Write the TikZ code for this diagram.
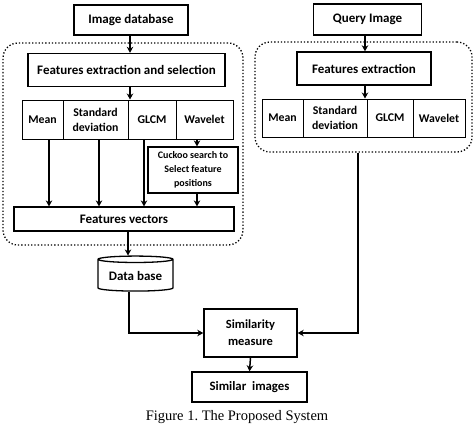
\documentclass[tikz,border=0pt]{standalone}
\usepackage{fontspec}
\setmainfont{Carlito}
\newfontfamily\capfont{Liberation Serif}
\usetikzlibrary{arrows.meta,shapes.geometric}
\begin{document}
\begin{tikzpicture}[x=1pt,y=1pt,
  box/.style={draw,line width=1.4pt,align=center,inner sep=0pt,font=\bfseries\fontsize{13}{17}\selectfont},
  cell/.style={draw,line width=1pt,align=center,inner sep=0pt,font=\bfseries\fontsize{11.8}{15}\selectfont},
  region/.style={draw,dotted,line width=1.3pt,rounded corners=15pt,inner sep=0pt},
  arr/.style={line width=1.5pt,-{Stealth[length=6pt,width=6.5pt]}}]
\useasboundingbox[fill=white] (0,0) rectangle (474,-424);
% regions
\node[region,minimum width=240,minimum height=202] (lregion) at (123,-144) {};
\node[region,minimum width=217,minimum height=110] (rregion) at (363.5,-97) {};
% left branch
\node[box,minimum width=114,minimum height=30] (imgdb) at (131,-20) {Image database};
\node[box,minimum width=197,minimum height=33] (fes) at (126.5,-70) {Features extraction and selection};
\node[cell,minimum width=41,minimum height=39] (mean) at (42.5,-119.5) {Mean};
\node[cell,minimum width=65,minimum height=39] (std) at (95.5,-119.5) {Standard\\deviation};
\node[cell,minimum width=48,minimum height=39] (glcm) at (152,-119.5) {GLCM};
\node[cell,minimum width=57,minimum height=39] (wav) at (204.5,-119.5) {Wavelet};
\node[box,line width=1.2pt,minimum width=90,minimum height=46,font=\bfseries\fontsize{10}{14}\selectfont] (cuckoo) at (193,-170) {Cuckoo search to\\Select feature\\positions};
\node[box,line width=1.2pt,minimum width=220,minimum height=24] (fv) at (124,-219) {Features vectors};
\node[draw,line width=1.3pt,shape=cylinder,shape border rotate=90,aspect=0.12,minimum width=75,minimum height=35,inner sep=0pt,font=\bfseries\fontsize{13}{14}\selectfont] (dbase) at (135.5,-275.5) {Data base};
% right branch
\node[box,minimum width=108,minimum height=31] (query) at (367.5,-19.5) {Query Image};
\node[box,minimum width=134,minimum height=33] (fe) at (364,-68.5) {Features extraction};
\node[cell,minimum width=41,minimum height=38] (rmean) at (282.5,-118) {Mean};
\node[cell,minimum width=64,minimum height=38] (rstd) at (335,-118) {Standard\\deviation};
\node[cell,minimum width=46,minimum height=38] (rglcm) at (390,-118) {GLCM};
\node[cell,minimum width=52,minimum height=38] (rwav) at (439,-118) {Wavelet};
% bottom
\node[box,minimum width=93,minimum height=48,font=\bfseries\fontsize{12.5}{17}\selectfont] (sim) at (250.5,-333) {Similarity\\measure};
\node[box,minimum width=115,minimum height=30,font=\bfseries\fontsize{12.8}{14}\selectfont] (simimg) at (249.5,-387) {Similar\ \ images};
\node[anchor=base,inner sep=0pt,font=\capfont\fontsize{14.5}{16}\selectfont] (cap) at (237,-420) {Figure 1.\ The Proposed System};
% connectors left
\draw[arr] ([xshift=-1pt]imgdb.south) -- ([xshift=-1pt]imgdb.south |- fes.north);
\draw[arr] ([xshift=3.5pt]fes.south) -- ([xshift=3.5pt]fes.south |- glcm.north);
\draw[arr] ([xshift=6.5pt]mean.south) -- ([xshift=6.5pt]mean.south |- fv.north);
\draw[arr] ([xshift=3.5pt]std.south) -- ([xshift=3.5pt]std.south |- fv.north);
\draw[arr] ([xshift=-8pt]glcm.south) -- ([xshift=-8pt]glcm.south |- fv.north);
\draw[arr] ([xshift=-7.5pt]wav.south) -- ([xshift=-7.5pt]wav.south |- cuckoo.north);
\draw[arr] ([xshift=4pt]cuckoo.south) -- ([xshift=4pt]cuckoo.south |- fv.north);
\draw[arr] ([xshift=4pt]fv.south) -- ([xshift=4pt]fv.south |- dbase.north);
\draw[arr] ([xshift=-6.5pt]dbase.south) |- (sim.west);
% connectors right
\draw[arr] ([xshift=-2.5pt]query.south) -- ([xshift=-2.5pt]query.south |- fe.north);
\draw[arr] ([xshift=1pt]fe.south) -- ([xshift=1pt]fe.south |- rstd.north);
\draw[arr] ([xshift=-5.5pt]rregion.south) |- (sim.east);
\draw[arr] (sim.south) -- (simimg.north);
\end{tikzpicture}
\end{document}
